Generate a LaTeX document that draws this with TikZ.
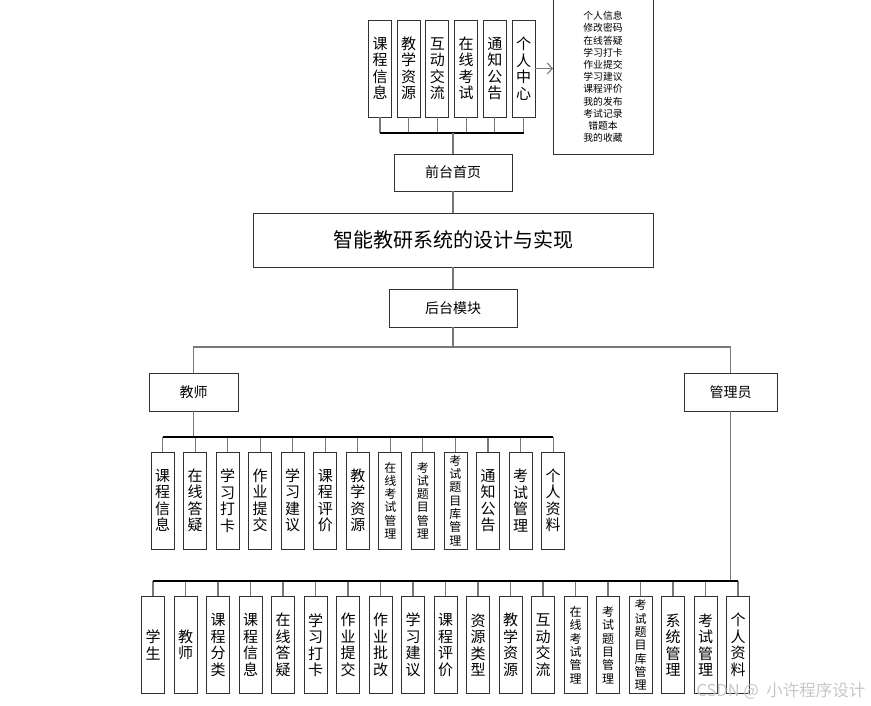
\documentclass[tikz,border=0pt]{standalone}
\usepackage{fontspec}
\setmainfont{Noto Sans CJK SC}
\usetikzlibrary{arrows.meta}
\definecolor{stemc}{RGB}{120,120,120}
\definecolor{boxc}{RGB}{50,50,50}
\tikzset{
  box/.style={draw=boxc,line width=0.9pt,inner sep=0pt,align=center,fill=white},
  vbox/.style={box,minimum width=23pt,minimum height=97pt,font=\fontsize{15}{16.5}\selectfont},
  vboxs/.style={vbox,font=\fontsize{12}{13.3}\selectfont},
  hbox/.style={box,font=\fontsize{14}{16}\selectfont},
  stem/.style={draw=stemc,line width=1.1pt},
  busl/.style={draw=black,line width=1.4pt},
}
\begin{document}
\begin{tikzpicture}[x=1pt,y=-1pt]
\useasboundingbox (0,0) rectangle (871,706);
% top row
\foreach \t [count=\i] in {课\\程\\信\\息,教\\学\\资\\源,互\\动\\交\\流,在\\线\\考\\试,通\\知\\公\\告,个\\人\\中\\心}{
  \node[vbox] (u\i) at ({380+28.7*(\i-1)},68.5) {\t};
}
\node[box,minimum width=100pt,minimum height=165pt,anchor=south west] (panel) at (553,155) {};
\node[font=\fontsize{9.8}{12.2}\selectfont,align=center] (plist) at (603,77) {个人信息\\修改密码\\在线答疑\\学习打卡\\作业提交\\学习建议\\课程评价\\我的发布\\考试记录\\错题本\\我的收藏};
\coordinate (ubus) at (0,133);
\foreach \i in {1,...,6}{\draw[stem] (u\i.south) -- (u\i.south |- ubus);}
\draw[busl] (u1.south |- ubus) -- (u6.south |- ubus);
\draw[stem,-{Straight Barb[length=5pt,width=11pt]}] (u6.east) -- (u6.east -| panel.west);

\node[hbox,minimum width=118pt,minimum height=37pt] (front) at (453,172.5) {前台首页};
\draw[stem] (front.north |- ubus) -- (front.north);
\node[box,minimum width=400pt,minimum height=54pt,font=\fontsize{20}{24}\selectfont] (main) at (453,240) {智能教研系统的设计与实现};
\draw[stem] (front.south) -- (main.north);
\node[hbox,minimum width=128pt,minimum height=38pt] (back) at (453,308) {后台模块};
\draw[stem] (main.south) -- (back.north);
\coordinate (lbus) at (0,347);
\node[hbox,minimum width=89pt,minimum height=38pt] (teacher) at (193.5,392) {教师};
\node[hbox,minimum width=93pt,minimum height=38pt] (admin) at (730.5,392) {管理员};
\draw[stem] (back.south) -- (back.south |- lbus);
\draw[stem] (teacher.north) -- (teacher.north |- lbus) -- (admin.north |- lbus) -- (admin.north);

% teacher row
\coordinate (tbus) at (0,437);
\foreach \t/\s [count=\i] in {课\\程\\信\\息/vbox,在\\线\\答\\疑/vbox,学\\习\\打\\卡/vbox,作\\业\\提\\交/vbox,学\\习\\建\\议/vbox,课\\程\\评\\价/vbox,教\\学\\资\\源/vbox,在\\线\\考\\试\\管\\理/vboxs,考\\试\\题\\目\\管\\理/vboxs,考\\试\\题\\目\\库\\管\\理/vboxs,通\\知\\公\\告/vbox,考\\试\\管\\理/vbox,个\\人\\资\\料/vbox}{
  \node[\s] (t\i) at ({162.5+32.55*(\i-1)},500.5) {\t};
  \draw[stem] (t\i.north) -- (t\i.north |- tbus);
}
\draw[stem] (teacher.south) -- (teacher.south |- tbus);
\draw[busl] (t1.north |- tbus) -- (t13.north |- tbus);

% admin row
\coordinate (abus) at (0,581);
\foreach \t/\s [count=\i] in {学\\生/vbox,教\\师/vbox,课\\程\\分\\类/vbox,课\\程\\信\\息/vbox,在\\线\\答\\疑/vbox,学\\习\\打\\卡/vbox,作\\业\\提\\交/vbox,作\\业\\批\\改/vbox,学\\习\\建\\议/vbox,课\\程\\评\\价/vbox,资\\源\\类\\型/vbox,教\\学\\资\\源/vbox,互\\动\\交\\流/vbox,在\\线\\考\\试\\管\\理/vboxs,考\\试\\题\\目\\管\\理/vboxs,考\\试\\题\\目\\库\\管\\理/vboxs,系\\统\\管\\理/vbox,考\\试\\管\\理/vbox,个\\人\\资\\料/vbox}{
  \node[\s] (a\i) at ({153+32.5*(\i-1)},645) {\t};
  \draw[stem] (a\i.north) -- (a\i.north |- abus);
}
\draw[stem] (admin.south) -- (admin.south |- abus);
\draw[busl] (a1.north |- abus) -- (a19.north |- abus);

\node[font=\fontsize{16.5}{19}\selectfont,text=black!22,anchor=east] (wm) at (869,691) {CSDN @ \ 小许程序设计};
\end{tikzpicture}
\end{document}
